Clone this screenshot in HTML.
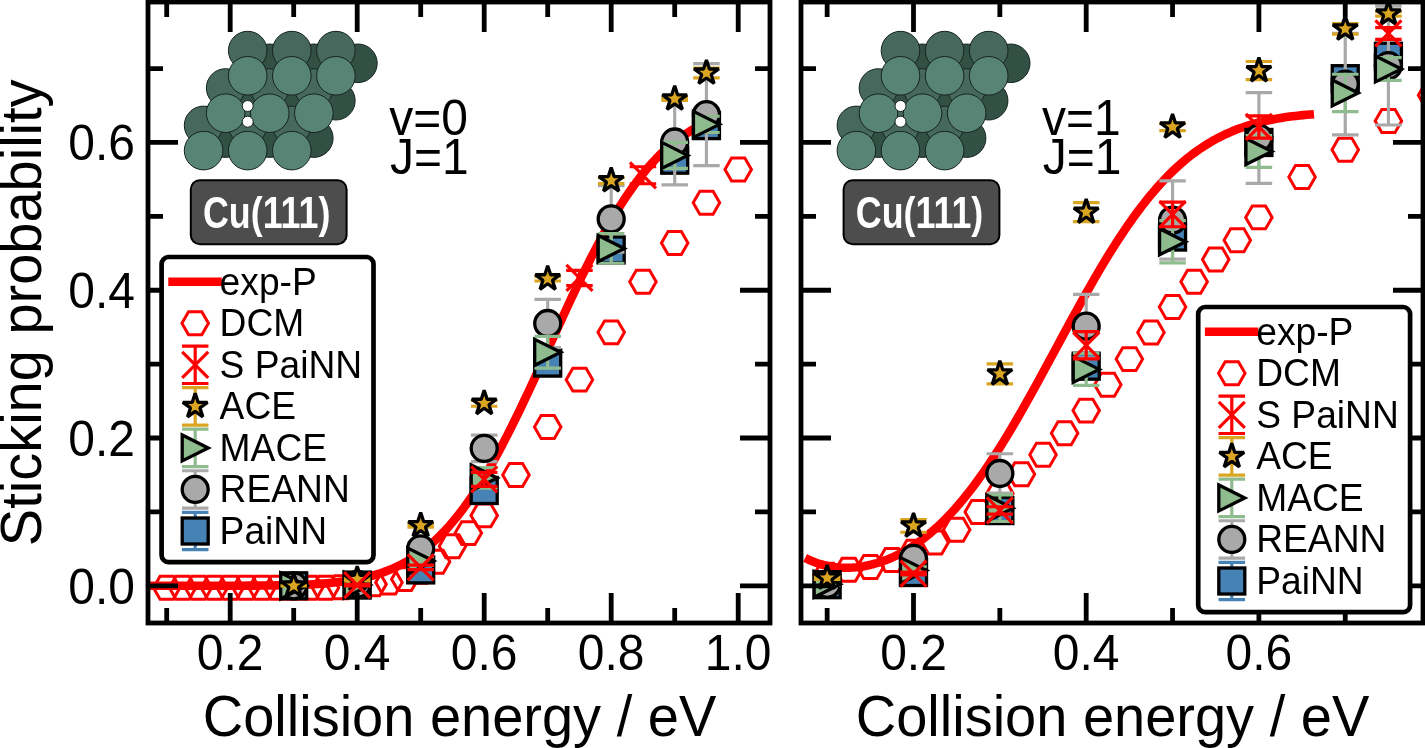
<!DOCTYPE html>
<html lang="en"><head><meta charset="utf-8"><title>Sticking probability vs collision energy</title>
<style>
html,body{margin:0;padding:0;background:#fff;overflow:hidden}
svg{display:block}
text{font-family:"Liberation Sans",sans-serif}
</style></head><body>
<svg width="1425" height="748" viewBox="0 0 1425 748" role="img" aria-label="Sticking probability versus collision energy for Cu(111)">
<rect width="1425" height="748" fill="#fff"/>
<text transform="translate(41.2,312.8) rotate(-90) scale(1,1.03)" font-size="56" text-anchor="middle">Sticking probability</text>
<clipPath id="clipL"><rect x="148" y="2" width="622" height="621"/></clipPath>
<g clip-path="url(#clipL)">
<path d="M134.95 585.8 L139.65 585.8 L144.34 585.8 L149.04 585.8 L153.73 585.8 L158.43 585.8 L163.12 585.8 L167.82 585.8 L172.52 585.8 L177.21 585.8 L181.91 585.79 L186.6 585.79 L191.3 585.79 L196 585.79 L200.69 585.79 L205.39 585.78 L210.08 585.78 L214.78 585.77 L219.47 585.76 L224.17 585.76 L228.87 585.74 L233.56 585.73 L238.26 585.72 L242.95 585.7 L247.65 585.67 L252.34 585.65 L257.04 585.61 L261.74 585.57 L266.43 585.52 L271.13 585.47 L275.82 585.4 L280.52 585.32 L285.22 585.22 L289.91 585.11 L294.61 584.98 L299.3 584.82 L304 584.65 L308.69 584.44 L313.39 584.19 L318.09 583.91 L322.78 583.59 L327.48 583.21 L332.17 582.78 L336.87 582.29 L341.57 581.74 L346.26 581.1 L350.96 580.38 L355.65 579.56 L360.35 578.64 L365.04 577.61 L369.74 576.45 L374.44 575.15 L379.13 573.71 L383.83 572.11 L388.52 570.33 L393.22 568.36 L397.91 566.2 L402.61 563.82 L407.31 561.22 L412 558.38 L416.7 555.29 L421.39 551.93 L426.09 548.29 L430.79 544.36 L435.48 540.14 L440.18 535.6 L444.87 530.75 L449.57 525.57 L454.26 520.06 L458.96 514.22 L463.66 508.04 L468.35 501.53 L473.05 494.67 L477.74 487.49 L482.44 479.98 L487.13 472.15 L491.83 464.01 L496.53 455.57 L501.22 446.85 L505.92 437.87 L510.61 428.64 L515.31 419.19 L520.01 409.53 L524.7 399.7 L529.4 389.71 L534.09 379.6 L538.79 369.39 L543.48 359.11 L548.18 348.79 L552.88 338.46 L557.57 328.16 L562.27 317.9 L566.96 307.73 L571.66 297.66 L576.36 287.73 L581.05 277.96 L585.75 268.38 L590.44 259.02 L595.14 249.88 L599.83 241 L604.53 232.39 L609.23 224.07 L613.92 216.05 L618.62 208.35 L623.31 200.96 L628.01 193.91 L632.7 187.19 L637.4 180.8 L642.1 174.76 L646.79 169.04 L651.49 163.67 L656.18 158.62 L660.88 153.89 L665.58 149.48 L670.27 145.37 L674.97 141.56 L679.66 138.04 L684.36 134.78 L689.05 131.79 L693.75 129.04" fill="none" stroke="#ff0000" stroke-width="8.6" stroke-linecap="butt" stroke-linejoin="round"/>
<path d="M179.95 587.8 L173.32 599.27 L160.07 599.27 L153.45 587.8 L160.07 576.32 L173.32 576.32Z" fill="none" stroke="#ff0000" stroke-width="3.0" stroke-linejoin="miter"/>
<path d="M195.82 587.8 L189.2 599.27 L175.95 599.27 L169.32 587.8 L175.95 576.32 L189.2 576.32Z" fill="none" stroke="#ff0000" stroke-width="3.0" stroke-linejoin="miter"/>
<path d="M211.7 587.8 L205.08 599.27 L191.83 599.27 L185.2 587.8 L191.83 576.32 L205.08 576.32Z" fill="none" stroke="#ff0000" stroke-width="3.0" stroke-linejoin="miter"/>
<path d="M227.58 587.8 L220.95 599.27 L207.7 599.27 L201.08 587.8 L207.7 576.32 L220.95 576.32Z" fill="none" stroke="#ff0000" stroke-width="3.0" stroke-linejoin="miter"/>
<path d="M243.45 587.8 L236.82 599.27 L223.57 599.27 L216.95 587.8 L223.57 576.32 L236.82 576.32Z" fill="none" stroke="#ff0000" stroke-width="3.0" stroke-linejoin="miter"/>
<path d="M259.32 587.8 L252.7 599.27 L239.45 599.27 L232.82 587.8 L239.45 576.32 L252.7 576.32Z" fill="none" stroke="#ff0000" stroke-width="3.0" stroke-linejoin="miter"/>
<path d="M275.2 587.8 L268.57 599.27 L255.32 599.27 L248.7 587.8 L255.32 576.32 L268.57 576.32Z" fill="none" stroke="#ff0000" stroke-width="3.0" stroke-linejoin="miter"/>
<path d="M291.07 587.8 L284.45 599.27 L271.2 599.27 L264.57 587.8 L271.2 576.32 L284.45 576.32Z" fill="none" stroke="#ff0000" stroke-width="3.0" stroke-linejoin="miter"/>
<path d="M306.95 587.8 L300.33 599.27 L287.08 599.27 L280.45 587.8 L287.08 576.32 L300.33 576.32Z" fill="none" stroke="#ff0000" stroke-width="3.0" stroke-linejoin="miter"/>
<path d="M322.82 587.8 L316.2 599.27 L302.95 599.27 L296.32 587.8 L302.95 576.32 L316.2 576.32Z" fill="none" stroke="#ff0000" stroke-width="3.0" stroke-linejoin="miter"/>
<path d="M338.7 587.8 L332.07 599.27 L318.82 599.27 L312.2 587.8 L318.82 576.32 L332.07 576.32Z" fill="none" stroke="#ff0000" stroke-width="3.0" stroke-linejoin="miter"/>
<path d="M354.57 587.28 L347.95 598.75 L334.7 598.75 L328.07 587.28 L334.7 575.8 L347.95 575.8Z" fill="none" stroke="#ff0000" stroke-width="3.0" stroke-linejoin="miter"/>
<path d="M370.45 585.8 L363.82 597.27 L350.57 597.27 L343.95 585.8 L350.57 574.33 L363.82 574.33Z" fill="none" stroke="#ff0000" stroke-width="3.0" stroke-linejoin="miter"/>
<path d="M386.32 584.32 L379.7 595.8 L366.45 595.8 L359.82 584.32 L366.45 572.85 L379.7 572.85Z" fill="none" stroke="#ff0000" stroke-width="3.0" stroke-linejoin="miter"/>
<path d="M402.2 582.47 L395.58 593.95 L382.33 593.95 L375.7 582.47 L382.33 571 L395.58 571Z" fill="none" stroke="#ff0000" stroke-width="3.0" stroke-linejoin="miter"/>
<path d="M418.07 579.15 L411.45 590.62 L398.2 590.62 L391.57 579.15 L398.2 567.68 L411.45 567.68Z" fill="none" stroke="#ff0000" stroke-width="3.0" stroke-linejoin="miter"/>
<path d="M433.95 571.76 L427.32 583.24 L414.07 583.24 L407.45 571.76 L414.07 560.29 L427.32 560.29Z" fill="none" stroke="#ff0000" stroke-width="3.0" stroke-linejoin="miter"/>
<path d="M449.82 561.79 L443.2 573.26 L429.95 573.26 L423.32 561.79 L429.95 550.31 L443.2 550.31Z" fill="none" stroke="#ff0000" stroke-width="3.0" stroke-linejoin="miter"/>
<path d="M465.7 546.27 L459.07 557.74 L445.82 557.74 L439.2 546.27 L445.82 534.79 L459.07 534.79Z" fill="none" stroke="#ff0000" stroke-width="3.0" stroke-linejoin="miter"/>
<path d="M481.58 533.12 L474.95 544.59 L461.7 544.59 L455.08 533.12 L461.7 521.64 L474.95 521.64Z" fill="none" stroke="#ff0000" stroke-width="3.0" stroke-linejoin="miter"/>
<path d="M497.45 515.38 L490.82 526.86 L477.57 526.86 L470.95 515.38 L477.57 503.91 L490.82 503.91Z" fill="none" stroke="#ff0000" stroke-width="3.0" stroke-linejoin="miter"/>
<path d="M529.2 474.96 L522.58 486.44 L509.33 486.44 L502.7 474.96 L509.33 463.49 L522.58 463.49Z" fill="none" stroke="#ff0000" stroke-width="3.0" stroke-linejoin="miter"/>
<path d="M560.95 426.94 L554.33 438.41 L541.08 438.41 L534.45 426.94 L541.08 415.46 L554.33 415.46Z" fill="none" stroke="#ff0000" stroke-width="3.0" stroke-linejoin="miter"/>
<path d="M592.7 379.65 L586.08 391.12 L572.83 391.12 L566.2 379.65 L572.83 368.17 L586.08 368.17Z" fill="none" stroke="#ff0000" stroke-width="3.0" stroke-linejoin="miter"/>
<path d="M624.45 332.36 L617.83 343.83 L604.58 343.83 L597.95 332.36 L604.58 320.88 L617.83 320.88Z" fill="none" stroke="#ff0000" stroke-width="3.0" stroke-linejoin="miter"/>
<path d="M656.2 281.82 L649.58 293.29 L636.33 293.29 L629.7 281.82 L636.33 270.34 L649.58 270.34Z" fill="none" stroke="#ff0000" stroke-width="3.0" stroke-linejoin="miter"/>
<path d="M687.95 242.95 L681.33 254.43 L668.08 254.43 L661.45 242.95 L668.08 231.48 L681.33 231.48Z" fill="none" stroke="#ff0000" stroke-width="3.0" stroke-linejoin="miter"/>
<path d="M719.7 202.68 L713.08 214.16 L699.83 214.16 L693.2 202.68 L699.83 191.21 L713.08 191.21Z" fill="none" stroke="#ff0000" stroke-width="3.0" stroke-linejoin="miter"/>
<path d="M751.45 169.43 L744.83 180.9 L731.58 180.9 L724.95 169.43 L731.58 157.96 L744.83 157.96Z" fill="none" stroke="#ff0000" stroke-width="3.0" stroke-linejoin="miter"/>
<path d="M293.7 585.8 V585.8 M280.45 585.8 H306.95 M280.45 585.8 H306.95" fill="none" stroke="#4682b4" stroke-width="3.2"/>
<path d="M357.2 584.32 V585.8 M343.95 584.32 H370.45 M343.95 585.8 H370.45" fill="none" stroke="#4682b4" stroke-width="3.2"/>
<path d="M420.7 566.96 V572.87 M407.45 566.96 H433.95 M407.45 572.87 H433.95" fill="none" stroke="#4682b4" stroke-width="3.2"/>
<path d="M484.2 484.57 V496.39 M470.95 484.57 H497.45 M470.95 496.39 H497.45" fill="none" stroke="#4682b4" stroke-width="3.2"/>
<path d="M547.7 354.23 V371.96 M534.45 354.23 H560.95 M534.45 371.96 H560.95" fill="none" stroke="#4682b4" stroke-width="3.2"/>
<path d="M611.2 241.1 V258.84 M597.95 241.1 H624.45 M597.95 258.84 H624.45" fill="none" stroke="#4682b4" stroke-width="3.2"/>
<path d="M674.7 151.33 V169.06 M661.45 151.33 H687.95 M661.45 169.06 H687.95" fill="none" stroke="#4682b4" stroke-width="3.2"/>
<path d="M706.45 116.75 V134.48 M693.2 116.75 H719.7 M693.2 134.48 H719.7" fill="none" stroke="#4682b4" stroke-width="3.2"/>
<rect x="280.7" y="572.8" width="26" height="26" fill="#4682b4" stroke="#000" stroke-width="3.3"/>
<rect x="344.2" y="572.06" width="26" height="26" fill="#4682b4" stroke="#000" stroke-width="3.3"/>
<rect x="407.7" y="556.91" width="26" height="26" fill="#4682b4" stroke="#000" stroke-width="3.3"/>
<rect x="471.2" y="477.48" width="26" height="26" fill="#4682b4" stroke="#000" stroke-width="3.3"/>
<rect x="534.7" y="350.1" width="26" height="26" fill="#4682b4" stroke="#000" stroke-width="3.3"/>
<rect x="598.2" y="236.97" width="26" height="26" fill="#4682b4" stroke="#000" stroke-width="3.3"/>
<rect x="661.7" y="147.19" width="26" height="26" fill="#4682b4" stroke="#000" stroke-width="3.3"/>
<rect x="693.45" y="112.61" width="26" height="26" fill="#4682b4" stroke="#000" stroke-width="3.3"/>
<path d="M293.7 585.8 V585.8 M280.45 585.8 H306.95 M280.45 585.8 H306.95" fill="none" stroke="#a9a9a9" stroke-width="3.2"/>
<path d="M357.2 582.84 V585.8 M343.95 582.84 H370.45 M343.95 585.8 H370.45" fill="none" stroke="#a9a9a9" stroke-width="3.2"/>
<path d="M420.7 542.94 V554.77 M407.45 542.94 H433.95 M407.45 554.77 H433.95" fill="none" stroke="#a9a9a9" stroke-width="3.2"/>
<path d="M484.2 435.06 V461.66 M470.95 435.06 H497.45 M470.95 461.66 H497.45" fill="none" stroke="#a9a9a9" stroke-width="3.2"/>
<path d="M547.7 299.4 V347.58 M534.45 299.4 H560.95 M534.45 347.58 H560.95" fill="none" stroke="#a9a9a9" stroke-width="3.2"/>
<path d="M611.2 185.69 V252.19 M597.95 185.69 H624.45 M597.95 252.19 H624.45" fill="none" stroke="#a9a9a9" stroke-width="3.2"/>
<path d="M674.7 99.16 V184.87 M661.45 99.16 H687.95 M661.45 184.87 H687.95" fill="none" stroke="#a9a9a9" stroke-width="3.2"/>
<path d="M706.45 63.69 V165.66 M693.2 63.69 H719.7 M693.2 165.66 H719.7" fill="none" stroke="#a9a9a9" stroke-width="3.2"/>
<circle cx="293.7" cy="585.8" r="13" fill="#a9a9a9" stroke="#000" stroke-width="3.3"/>
<circle cx="357.2" cy="584.32" r="13" fill="#a9a9a9" stroke="#000" stroke-width="3.3"/>
<circle cx="420.7" cy="548.85" r="13" fill="#a9a9a9" stroke="#000" stroke-width="3.3"/>
<circle cx="484.2" cy="448.36" r="13" fill="#a9a9a9" stroke="#000" stroke-width="3.3"/>
<circle cx="547.7" cy="323.49" r="13" fill="#a9a9a9" stroke="#000" stroke-width="3.3"/>
<circle cx="611.2" cy="218.94" r="13" fill="#a9a9a9" stroke="#000" stroke-width="3.3"/>
<circle cx="674.7" cy="142.02" r="13" fill="#a9a9a9" stroke="#000" stroke-width="3.3"/>
<circle cx="706.45" cy="114.68" r="13" fill="#a9a9a9" stroke="#000" stroke-width="3.3"/>
<path d="M293.7 585.8 V585.8 M280.45 585.8 H306.95 M280.45 585.8 H306.95" fill="none" stroke="#8fbc8f" stroke-width="3.2"/>
<path d="M357.2 584.32 V585.8 M343.95 584.32 H370.45 M343.95 585.8 H370.45" fill="none" stroke="#8fbc8f" stroke-width="3.2"/>
<path d="M420.7 556.61 V565.48 M407.45 556.61 H433.95 M407.45 565.48 H433.95" fill="none" stroke="#8fbc8f" stroke-width="3.2"/>
<path d="M484.2 467.58 V488.27 M470.95 467.58 H497.45 M470.95 488.27 H497.45" fill="none" stroke="#8fbc8f" stroke-width="3.2"/>
<path d="M547.7 336.42 V368.19 M534.45 336.42 H560.95 M534.45 368.19 H560.95" fill="none" stroke="#8fbc8f" stroke-width="3.2"/>
<path d="M611.2 233.71 V263.27 M597.95 233.71 H624.45 M597.95 263.27 H624.45" fill="none" stroke="#8fbc8f" stroke-width="3.2"/>
<path d="M674.7 142.46 V168.32 M661.45 142.46 H687.95 M661.45 168.32 H687.95" fill="none" stroke="#8fbc8f" stroke-width="3.2"/>
<path d="M706.45 116.23 V132.48 M693.2 116.23 H719.7 M693.2 132.48 H719.7" fill="none" stroke="#8fbc8f" stroke-width="3.2"/>
<path d="M306.7 585.8 L280.7 572.8 L280.7 598.8Z" fill="#8fbc8f" stroke="#000" stroke-width="3.3" stroke-linejoin="miter" stroke-miterlimit="10"/>
<path d="M370.2 585.06 L344.2 572.06 L344.2 598.06Z" fill="#8fbc8f" stroke="#000" stroke-width="3.3" stroke-linejoin="miter" stroke-miterlimit="10"/>
<path d="M433.7 561.05 L407.7 548.05 L407.7 574.05Z" fill="#8fbc8f" stroke="#000" stroke-width="3.3" stroke-linejoin="miter" stroke-miterlimit="10"/>
<path d="M497.2 477.92 L471.2 464.92 L471.2 490.92Z" fill="#8fbc8f" stroke="#000" stroke-width="3.3" stroke-linejoin="miter" stroke-miterlimit="10"/>
<path d="M560.7 352.31 L534.7 339.31 L534.7 365.31Z" fill="#8fbc8f" stroke="#000" stroke-width="3.3" stroke-linejoin="miter" stroke-miterlimit="10"/>
<path d="M624.2 248.49 L598.2 235.49 L598.2 261.49Z" fill="#8fbc8f" stroke="#000" stroke-width="3.3" stroke-linejoin="miter" stroke-miterlimit="10"/>
<path d="M687.7 155.39 L661.7 142.39 L661.7 168.39Z" fill="#8fbc8f" stroke="#000" stroke-width="3.3" stroke-linejoin="miter" stroke-miterlimit="10"/>
<path d="M719.45 124.36 L693.45 111.36 L693.45 137.36Z" fill="#8fbc8f" stroke="#000" stroke-width="3.3" stroke-linejoin="miter" stroke-miterlimit="10"/>
<path d="M293.7 585.8 V585.8 M280.45 585.8 H306.95 M280.45 585.8 H306.95" fill="none" stroke="#daa520" stroke-width="3.2"/>
<path d="M357.2 577.89 V580.85 M343.95 577.89 H370.45 M343.95 580.85 H370.45" fill="none" stroke="#daa520" stroke-width="3.2"/>
<path d="M420.7 524.1 V527.06 M407.45 524.1 H433.95 M407.45 527.06 H433.95" fill="none" stroke="#daa520" stroke-width="3.2"/>
<path d="M484.2 400.34 V406.25 M470.95 400.34 H497.45 M470.95 406.25 H497.45" fill="none" stroke="#daa520" stroke-width="3.2"/>
<path d="M547.7 276.57 V281 M534.45 276.57 H560.95 M534.45 281 H560.95" fill="none" stroke="#daa520" stroke-width="3.2"/>
<path d="M611.2 177.63 V183.54 M597.95 177.63 H624.45 M597.95 183.54 H624.45" fill="none" stroke="#daa520" stroke-width="3.2"/>
<path d="M674.7 97.39 V100.34 M661.45 97.39 H687.95 M661.45 100.34 H687.95" fill="none" stroke="#daa520" stroke-width="3.2"/>
<path d="M706.45 68.13 V77.88 M693.2 68.13 H719.7 M693.2 77.88 H719.7" fill="none" stroke="#daa520" stroke-width="3.2"/>
<path d="M293.7 572.8 L296.62 581.78 L306.06 581.78 L298.42 587.33 L301.34 596.32 L293.7 590.77 L286.06 596.32 L288.98 587.33 L281.34 581.78 L290.78 581.78Z" fill="#daa520" stroke="#000" stroke-width="3.3" stroke-linejoin="bevel"/>
<path d="M357.2 566.37 L360.12 575.35 L369.56 575.35 L361.92 580.91 L364.84 589.89 L357.2 584.34 L349.56 589.89 L352.48 580.91 L344.84 575.35 L354.28 575.35Z" fill="#daa520" stroke="#000" stroke-width="3.3" stroke-linejoin="bevel"/>
<path d="M420.7 512.58 L423.62 521.56 L433.06 521.56 L425.42 527.11 L428.34 536.1 L420.7 530.55 L413.06 536.1 L415.98 527.11 L408.34 521.56 L417.78 521.56Z" fill="#daa520" stroke="#000" stroke-width="3.3" stroke-linejoin="bevel"/>
<path d="M484.2 390.29 L487.12 399.27 L496.56 399.27 L488.92 404.83 L491.84 413.81 L484.2 408.26 L476.56 413.81 L479.48 404.83 L471.84 399.27 L481.28 399.27Z" fill="#daa520" stroke="#000" stroke-width="3.3" stroke-linejoin="bevel"/>
<path d="M547.7 265.79 L550.62 274.77 L560.06 274.77 L552.42 280.32 L555.34 289.3 L547.7 283.75 L540.06 289.3 L542.98 280.32 L535.34 274.77 L544.78 274.77Z" fill="#daa520" stroke="#000" stroke-width="3.3" stroke-linejoin="bevel"/>
<path d="M611.2 167.59 L614.12 176.57 L623.56 176.57 L615.92 182.12 L618.84 191.1 L611.2 185.55 L603.56 191.1 L606.48 182.12 L598.84 176.57 L608.28 176.57Z" fill="#daa520" stroke="#000" stroke-width="3.3" stroke-linejoin="bevel"/>
<path d="M674.7 85.86 L677.62 94.85 L687.06 94.85 L679.42 100.4 L682.34 109.38 L674.7 103.83 L667.06 109.38 L669.98 100.4 L662.34 94.85 L671.78 94.85Z" fill="#daa520" stroke="#000" stroke-width="3.3" stroke-linejoin="bevel"/>
<path d="M706.45 60 L709.37 68.99 L718.81 68.99 L711.17 74.54 L714.09 83.52 L706.45 77.97 L698.81 83.52 L701.73 74.54 L694.09 68.99 L703.53 68.99Z" fill="#daa520" stroke="#000" stroke-width="3.3" stroke-linejoin="bevel"/>
<path d="M357.2 584.32 V585.8 M343.95 584.32 H370.45 M343.95 585.8 H370.45" fill="none" stroke="#ff0000" stroke-width="3.2"/>
<path d="M420.7 565.11 V569.54 M407.45 565.11 H433.95 M407.45 569.54 H433.95" fill="none" stroke="#ff0000" stroke-width="3.2"/>
<path d="M484.2 472.45 V486.34 M470.95 472.45 H497.45 M470.95 486.34 H497.45" fill="none" stroke="#ff0000" stroke-width="3.2"/>
<path d="M579.45 270.36 V285.58 M566.2 270.36 H592.7 M566.2 285.58 H592.7" fill="none" stroke="#ff0000" stroke-width="3.2"/>
<path d="M642.95 166.77 V183.76 M629.7 166.77 H656.2 M629.7 183.76 H656.2" fill="none" stroke="#ff0000" stroke-width="3.2"/>
<path d="M344.2 572.06 L370.2 598.06 M344.2 598.06 L370.2 572.06" fill="none" stroke="#ff0000" stroke-width="3.2"/>
<path d="M407.7 554.33 L433.7 580.33 M407.7 580.33 L433.7 554.33" fill="none" stroke="#ff0000" stroke-width="3.2"/>
<path d="M471.2 466.4 L497.2 492.4 M471.2 492.4 L497.2 466.4" fill="none" stroke="#ff0000" stroke-width="3.2"/>
<path d="M566.45 264.97 L592.45 290.97 M566.45 290.97 L592.45 264.97" fill="none" stroke="#ff0000" stroke-width="3.2"/>
<path d="M629.95 162.27 L655.95 188.27 M629.95 188.27 L655.95 162.27" fill="none" stroke="#ff0000" stroke-width="3.2"/>
</g>
<path d="M230.2 623 v-30 M230.2 2 v30 M357.2 623 v-30 M357.2 2 v30 M484.2 623 v-30 M484.2 2 v30 M611.2 623 v-30 M611.2 2 v30 M738.2 623 v-30 M738.2 2 v30 M166.7 623 v-15 M166.7 2 v15 M293.7 623 v-15 M293.7 2 v15 M420.7 623 v-15 M420.7 2 v15 M547.7 623 v-15 M547.7 2 v15 M674.7 623 v-15 M674.7 2 v15 M148 585.8 h30 M770 585.8 h-30 M148 438.02 h30 M770 438.02 h-30 M148 290.24 h30 M770 290.24 h-30 M148 142.46 h30 M770 142.46 h-30 M148 511.91 h15 M770 511.91 h-15 M148 364.13 h15 M770 364.13 h-15 M148 216.35 h15 M770 216.35 h-15 M148 68.57 h15 M770 68.57 h-15" fill="none" stroke="#000" stroke-width="4.8"/>
<rect x="148" y="2" width="622" height="621" fill="none" stroke="#000" stroke-width="4.8"/>
<text transform="translate(230.2,670.2) scale(1,1.055)" font-size="48" text-anchor="middle">0.2</text>
<text transform="translate(357.2,670.2) scale(1,1.055)" font-size="48" text-anchor="middle">0.4</text>
<text transform="translate(484.2,670.2) scale(1,1.055)" font-size="48" text-anchor="middle">0.6</text>
<text transform="translate(611.2,670.2) scale(1,1.055)" font-size="48" text-anchor="middle">0.8</text>
<text transform="translate(738.2,670.2) scale(1,1.055)" font-size="48" text-anchor="middle">1.0</text>
<text transform="translate(135,603.7) scale(1,1.055)" font-size="48" text-anchor="end">0.0</text>
<text transform="translate(135,455.92) scale(1,1.055)" font-size="48" text-anchor="end">0.2</text>
<text transform="translate(135,308.14) scale(1,1.055)" font-size="48" text-anchor="end">0.4</text>
<text transform="translate(135,160.36) scale(1,1.055)" font-size="48" text-anchor="end">0.6</text>
<text transform="translate(459.5,736.3) scale(1,1.02)" font-size="56" text-anchor="middle">Collision energy / eV</text>
<circle cx="269.7" cy="63.3" r="19.3" fill="#325044" stroke="#15231d" stroke-width="1"/>
<circle cx="313.8" cy="63.3" r="19.3" fill="#325044" stroke="#15231d" stroke-width="1"/>
<circle cx="357.9" cy="63.3" r="19.3" fill="#325044" stroke="#15231d" stroke-width="1"/>
<circle cx="247.65" cy="100.7" r="19.3" fill="#325044" stroke="#15231d" stroke-width="1"/>
<circle cx="291.75" cy="100.7" r="19.3" fill="#325044" stroke="#15231d" stroke-width="1"/>
<circle cx="335.85" cy="100.7" r="19.3" fill="#325044" stroke="#15231d" stroke-width="1"/>
<circle cx="225.6" cy="138.1" r="19.3" fill="#325044" stroke="#15231d" stroke-width="1"/>
<circle cx="269.7" cy="138.1" r="19.3" fill="#325044" stroke="#15231d" stroke-width="1"/>
<circle cx="313.8" cy="138.1" r="19.3" fill="#325044" stroke="#15231d" stroke-width="1"/>
<circle cx="247.7" cy="50.6" r="19.3" fill="#47695d" stroke="#15231d" stroke-width="1"/>
<circle cx="291.8" cy="50.6" r="19.3" fill="#47695d" stroke="#15231d" stroke-width="1"/>
<circle cx="335.9" cy="50.6" r="19.3" fill="#47695d" stroke="#15231d" stroke-width="1"/>
<circle cx="225.65" cy="88" r="19.3" fill="#47695d" stroke="#15231d" stroke-width="1"/>
<circle cx="269.75" cy="88" r="19.3" fill="#47695d" stroke="#15231d" stroke-width="1"/>
<circle cx="313.85" cy="88" r="19.3" fill="#47695d" stroke="#15231d" stroke-width="1"/>
<circle cx="203.6" cy="125.4" r="19.3" fill="#47695d" stroke="#15231d" stroke-width="1"/>
<circle cx="247.7" cy="125.4" r="19.3" fill="#47695d" stroke="#15231d" stroke-width="1"/>
<circle cx="291.8" cy="125.4" r="19.3" fill="#47695d" stroke="#15231d" stroke-width="1"/>
<circle cx="247.7" cy="75.8" r="19.3" fill="#588476" stroke="#15231d" stroke-width="1"/>
<circle cx="291.8" cy="75.8" r="19.3" fill="#588476" stroke="#15231d" stroke-width="1"/>
<circle cx="335.9" cy="75.8" r="19.3" fill="#588476" stroke="#15231d" stroke-width="1"/>
<circle cx="225.65" cy="113.2" r="19.3" fill="#588476" stroke="#15231d" stroke-width="1"/>
<circle cx="269.75" cy="113.2" r="19.3" fill="#588476" stroke="#15231d" stroke-width="1"/>
<circle cx="313.85" cy="113.2" r="19.3" fill="#588476" stroke="#15231d" stroke-width="1"/>
<circle cx="203.6" cy="150.6" r="19.3" fill="#588476" stroke="#15231d" stroke-width="1"/>
<circle cx="247.7" cy="150.6" r="19.3" fill="#588476" stroke="#15231d" stroke-width="1"/>
<circle cx="291.8" cy="150.6" r="19.3" fill="#588476" stroke="#15231d" stroke-width="1"/>
<circle cx="247.7" cy="106" r="5.5" fill="#fff" stroke="#15231d" stroke-width="1"/>
<circle cx="247.7" cy="121.7" r="5.5" fill="#fff" stroke="#15231d" stroke-width="1"/>
<rect x="190.8" y="180.2" width="155.8" height="64" rx="9" ry="9" fill="#4d4d4d" stroke="#000" stroke-width="2"/>
<text x="266.7" y="227.5" font-size="44" font-weight="bold" fill="#fff" text-anchor="middle" textLength="127.5" lengthAdjust="spacingAndGlyphs">Cu(111)</text>
<text transform="translate(389.3,135.3) scale(1,1.055)" font-size="48" text-anchor="start">v=0</text>
<text transform="translate(390,173.6) scale(1,1.055)" font-size="48" text-anchor="start">J=1</text>
<rect x="161.6" y="257" width="211.9" height="305.2" rx="7" ry="7" fill="#fff" stroke="#000" stroke-width="4.7"/>
<path d="M168.3 281.7 H221.8" stroke="#ff0000" stroke-width="8.6" fill="none"/>
<text transform="translate(219.6,294.6) scale(1,1.035)" font-size="37.2" text-anchor="start">exp-P</text>
<path d="M208.45 323.25 L201.82 334.72 L188.57 334.72 L181.95 323.25 L188.57 311.78 L201.82 311.78Z" fill="none" stroke="#ff0000" stroke-width="3.0" stroke-linejoin="miter"/>
<text transform="translate(219.6,336.15) scale(1,1.035)" font-size="37.2" text-anchor="start">DCM</text>
<path d="M195.2 346.1 V383.5 M181.95 346.1 H208.45 M181.95 383.5 H208.45" fill="none" stroke="#ff0000" stroke-width="3.2"/>
<path d="M182.2 351.8 L208.2 377.8 M182.2 377.8 L208.2 351.8" fill="none" stroke="#ff0000" stroke-width="3.2"/>
<text transform="translate(219.6,377.7) scale(1,1.035)" font-size="37.2" text-anchor="start">S PaiNN</text>
<path d="M195.2 387.65 V425.05 M181.95 387.65 H208.45 M181.95 425.05 H208.45" fill="none" stroke="#daa520" stroke-width="3.2"/>
<path d="M195.2 393.35 L198.12 402.33 L207.56 402.33 L199.92 407.88 L202.84 416.87 L195.2 411.32 L187.56 416.87 L190.48 407.88 L182.84 402.33 L192.28 402.33Z" fill="#daa520" stroke="#000" stroke-width="3.3" stroke-linejoin="bevel"/>
<text transform="translate(219.6,419.25) scale(1,1.035)" font-size="37.2" text-anchor="start">ACE</text>
<path d="M195.2 429.2 V466.6 M181.95 429.2 H208.45 M181.95 466.6 H208.45" fill="none" stroke="#8fbc8f" stroke-width="3.2"/>
<path d="M208.2 447.9 L182.2 434.9 L182.2 460.9Z" fill="#8fbc8f" stroke="#000" stroke-width="3.3" stroke-linejoin="miter" stroke-miterlimit="10"/>
<text transform="translate(219.6,460.8) scale(1,1.035)" font-size="37.2" text-anchor="start">MACE</text>
<path d="M195.2 470.75 V508.15 M181.95 470.75 H208.45 M181.95 508.15 H208.45" fill="none" stroke="#a9a9a9" stroke-width="3.2"/>
<circle cx="195.2" cy="489.45" r="13" fill="#a9a9a9" stroke="#000" stroke-width="3.3"/>
<text transform="translate(219.6,502.35) scale(1,1.035)" font-size="37.2" text-anchor="start">REANN</text>
<path d="M195.2 512.3 V549.7 M181.95 512.3 H208.45 M181.95 549.7 H208.45" fill="none" stroke="#4682b4" stroke-width="3.2"/>
<rect x="182.2" y="518" width="26" height="26" fill="#4682b4" stroke="#000" stroke-width="3.3"/>
<text transform="translate(219.6,543.9) scale(1,1.035)" font-size="37.2" text-anchor="start">PaiNN</text>
<clipPath id="clipR"><rect x="801" y="2" width="622" height="621"/></clipPath>
<g clip-path="url(#clipR)">
<path d="M805.13 557.89 L808.79 559.74 L812.45 561.36 L816.11 562.77 L819.77 563.99 L823.44 565.01 L827.1 565.87 L830.76 566.55 L834.42 567.08 L838.08 567.45 L841.74 567.68 L845.4 567.77 L849.06 567.72 L852.72 567.53 L856.38 567.22 L860.04 566.78 L863.7 566.21 L867.37 565.51 L871.03 564.69 L874.69 563.75 L878.35 562.67 L882.01 561.48 L885.67 560.15 L889.33 558.7 L892.99 557.11 L896.65 555.4 L900.31 553.55 L903.97 551.56 L907.64 549.44 L911.3 547.18 L914.96 544.78 L918.62 542.23 L922.28 539.54 L925.94 536.71 L929.6 533.73 L933.26 530.59 L936.92 527.31 L940.58 523.88 L944.24 520.29 L947.9 516.55 L951.57 512.65 L955.23 508.61 L958.89 504.41 L962.55 500.06 L966.21 495.55 L969.87 490.9 L973.53 486.1 L977.19 481.16 L980.85 476.07 L984.51 470.85 L988.17 465.48 L991.83 459.99 L995.5 454.37 L999.16 448.62 L1002.82 442.76 L1006.48 436.78 L1010.14 430.7 L1013.8 424.52 L1017.46 418.24 L1021.12 411.88 L1024.78 405.44 L1028.44 398.92 L1032.1 392.34 L1035.77 385.71 L1039.43 379.03 L1043.09 372.3 L1046.75 365.55 L1050.41 358.78 L1054.07 351.99 L1057.73 345.2 L1061.39 338.41 L1065.05 331.63 L1068.71 324.88 L1072.37 318.15 L1076.03 311.47 L1079.7 304.83 L1083.36 298.24 L1087.02 291.72 L1090.68 285.27 L1094.34 278.9 L1098 272.62 L1101.66 266.43 L1105.32 260.33 L1108.98 254.34 L1112.64 248.47 L1116.3 242.71 L1119.97 237.07 L1123.63 231.55 L1127.29 226.17 L1130.95 220.92 L1134.61 215.8 L1138.27 210.83 L1141.93 206 L1145.59 201.31 L1149.25 196.77 L1152.91 192.38 L1156.57 188.13 L1160.23 184.04 L1163.9 180.09 L1167.56 176.28 L1171.22 172.63 L1174.88 169.12 L1178.54 165.75 L1182.2 162.53 L1185.86 159.44 L1189.52 156.5 L1193.18 153.69 L1196.84 151.01 L1200.5 148.47 L1204.17 146.04 L1207.83 143.75 L1211.49 141.57 L1215.15 139.51 L1218.81 137.56 L1222.47 135.72 L1226.13 133.98 L1229.79 132.35 L1233.45 130.81 L1237.11 129.37 L1240.77 128.02 L1244.43 126.75 L1248.1 125.56 L1251.76 124.45 L1255.42 123.41 L1259.08 122.45 L1262.74 121.55 L1266.4 120.71 L1270.06 119.94 L1273.72 119.22 L1277.38 118.55 L1281.04 117.94 L1284.7 117.37 L1288.37 116.84 L1292.03 116.36 L1295.69 115.92 L1299.35 115.51 L1303.01 115.13 L1306.67 114.79 L1310.33 114.47 L1313.99 114.18" fill="none" stroke="#ff0000" stroke-width="8.6" stroke-linecap="butt" stroke-linejoin="round"/>
<path d="M840.4 574.72 L833.77 586.19 L820.52 586.19 L813.9 574.72 L820.52 563.24 L833.77 563.24Z" fill="none" stroke="#ff0000" stroke-width="3.0" stroke-linejoin="miter"/>
<path d="M861.99 569.77 L855.36 581.24 L842.11 581.24 L835.49 569.77 L842.11 558.29 L855.36 558.29Z" fill="none" stroke="#ff0000" stroke-width="3.0" stroke-linejoin="miter"/>
<path d="M883.57 567.03 L876.95 578.51 L863.7 578.51 L857.07 567.03 L863.7 555.56 L876.95 555.56Z" fill="none" stroke="#ff0000" stroke-width="3.0" stroke-linejoin="miter"/>
<path d="M905.16 560.09 L898.54 571.56 L885.29 571.56 L878.66 560.09 L885.29 548.61 L898.54 548.61Z" fill="none" stroke="#ff0000" stroke-width="3.0" stroke-linejoin="miter"/>
<path d="M926.75 551.81 L920.12 563.29 L906.88 563.29 L900.25 551.81 L906.88 540.34 L920.12 540.34Z" fill="none" stroke="#ff0000" stroke-width="3.0" stroke-linejoin="miter"/>
<path d="M948.34 542.5 L941.71 553.98 L928.46 553.98 L921.84 542.5 L928.46 531.03 L941.71 531.03Z" fill="none" stroke="#ff0000" stroke-width="3.0" stroke-linejoin="miter"/>
<path d="M969.92 529.72 L963.3 541.19 L950.05 541.19 L943.42 529.72 L950.05 518.24 L963.3 518.24Z" fill="none" stroke="#ff0000" stroke-width="3.0" stroke-linejoin="miter"/>
<path d="M991.51 511.98 L984.89 523.46 L971.64 523.46 L965.01 511.98 L971.64 500.51 L984.89 500.51Z" fill="none" stroke="#ff0000" stroke-width="3.0" stroke-linejoin="miter"/>
<path d="M1013.1 493.44 L1006.47 504.91 L993.22 504.91 L986.6 493.44 L993.22 481.96 L1006.47 481.96Z" fill="none" stroke="#ff0000" stroke-width="3.0" stroke-linejoin="miter"/>
<path d="M1034.69 474.23 L1028.06 485.7 L1014.81 485.7 L1008.19 474.23 L1014.81 462.75 L1028.06 462.75Z" fill="none" stroke="#ff0000" stroke-width="3.0" stroke-linejoin="miter"/>
<path d="M1056.27 454.72 L1049.65 466.19 L1036.4 466.19 L1029.77 454.72 L1036.4 443.24 L1049.65 443.24Z" fill="none" stroke="#ff0000" stroke-width="3.0" stroke-linejoin="miter"/>
<path d="M1077.86 433.22 L1071.24 444.69 L1057.99 444.69 L1051.36 433.22 L1057.99 421.74 L1071.24 421.74Z" fill="none" stroke="#ff0000" stroke-width="3.0" stroke-linejoin="miter"/>
<path d="M1099.45 410.61 L1092.83 422.08 L1079.58 422.08 L1072.95 410.61 L1079.58 399.13 L1092.83 399.13Z" fill="none" stroke="#ff0000" stroke-width="3.0" stroke-linejoin="miter"/>
<path d="M1121.04 384.67 L1114.41 396.15 L1101.16 396.15 L1094.54 384.67 L1101.16 373.2 L1114.41 373.2Z" fill="none" stroke="#ff0000" stroke-width="3.0" stroke-linejoin="miter"/>
<path d="M1142.62 359.11 L1136 370.58 L1122.75 370.58 L1116.12 359.11 L1122.75 347.63 L1136 347.63Z" fill="none" stroke="#ff0000" stroke-width="3.0" stroke-linejoin="miter"/>
<path d="M1164.21 332.58 L1157.59 344.05 L1144.34 344.05 L1137.71 332.58 L1144.34 321.1 L1157.59 321.1Z" fill="none" stroke="#ff0000" stroke-width="3.0" stroke-linejoin="miter"/>
<path d="M1185.8 307.01 L1179.17 318.49 L1165.92 318.49 L1159.3 307.01 L1165.92 295.54 L1179.17 295.54Z" fill="none" stroke="#ff0000" stroke-width="3.0" stroke-linejoin="miter"/>
<path d="M1207.39 281.82 L1200.76 293.29 L1187.51 293.29 L1180.89 281.82 L1187.51 270.34 L1200.76 270.34Z" fill="none" stroke="#ff0000" stroke-width="3.0" stroke-linejoin="miter"/>
<path d="M1228.97 259.43 L1222.35 270.9 L1209.1 270.9 L1202.47 259.43 L1209.1 247.95 L1222.35 247.95Z" fill="none" stroke="#ff0000" stroke-width="3.0" stroke-linejoin="miter"/>
<path d="M1250.56 240.29 L1243.94 251.77 L1230.69 251.77 L1224.06 240.29 L1230.69 228.82 L1243.94 228.82Z" fill="none" stroke="#ff0000" stroke-width="3.0" stroke-linejoin="miter"/>
<path d="M1272.15 217.38 L1265.53 228.86 L1252.28 228.86 L1245.65 217.38 L1252.28 205.91 L1265.53 205.91Z" fill="none" stroke="#ff0000" stroke-width="3.0" stroke-linejoin="miter"/>
<path d="M1315.32 177.04 L1308.7 188.52 L1295.45 188.52 L1288.82 177.04 L1295.45 165.57 L1308.7 165.57Z" fill="none" stroke="#ff0000" stroke-width="3.0" stroke-linejoin="miter"/>
<path d="M1358.5 149.85 L1351.88 161.32 L1338.62 161.32 L1332 149.85 L1338.62 138.37 L1351.88 138.37Z" fill="none" stroke="#ff0000" stroke-width="3.0" stroke-linejoin="miter"/>
<path d="M1401.67 121.03 L1395.05 132.51 L1381.8 132.51 L1375.17 121.03 L1381.8 109.56 L1395.05 109.56Z" fill="none" stroke="#ff0000" stroke-width="3.0" stroke-linejoin="miter"/>
<path d="M1444.85 95.17 L1438.22 106.65 L1424.97 106.65 L1418.35 95.17 L1424.97 83.7 L1438.22 83.7Z" fill="none" stroke="#ff0000" stroke-width="3.0" stroke-linejoin="miter"/>
<path d="M827.15 583.95 V585.43 M813.9 583.95 H840.4 M813.9 585.43 H840.4" fill="none" stroke="#4682b4" stroke-width="3.2"/>
<path d="M913.5 570.28 V574.72 M900.25 570.28 H926.75 M900.25 574.72 H926.75" fill="none" stroke="#4682b4" stroke-width="3.2"/>
<path d="M999.85 504.67 V516.49 M986.6 504.67 H1013.1 M986.6 516.49 H1013.1" fill="none" stroke="#4682b4" stroke-width="3.2"/>
<path d="M1086.2 357.33 V375.07 M1072.95 357.33 H1099.45 M1072.95 375.07 H1099.45" fill="none" stroke="#4682b4" stroke-width="3.2"/>
<path d="M1172.55 228.17 V245.91 M1159.3 228.17 H1185.8 M1159.3 245.91 H1185.8" fill="none" stroke="#4682b4" stroke-width="3.2"/>
<path d="M1258.9 133.59 V151.33 M1245.65 133.59 H1272.15 M1245.65 151.33 H1272.15" fill="none" stroke="#4682b4" stroke-width="3.2"/>
<path d="M1345.25 69.83 V87.56 M1332 69.83 H1358.5 M1332 87.56 H1358.5" fill="none" stroke="#4682b4" stroke-width="3.2"/>
<path d="M1388.42 47.36 V65.1 M1375.17 47.36 H1401.67 M1375.17 65.1 H1401.67" fill="none" stroke="#4682b4" stroke-width="3.2"/>
<rect x="814.15" y="571.69" width="26" height="26" fill="#4682b4" stroke="#000" stroke-width="3.3"/>
<rect x="900.5" y="559.5" width="26" height="26" fill="#4682b4" stroke="#000" stroke-width="3.3"/>
<rect x="986.85" y="497.58" width="26" height="26" fill="#4682b4" stroke="#000" stroke-width="3.3"/>
<rect x="1073.2" y="353.2" width="26" height="26" fill="#4682b4" stroke="#000" stroke-width="3.3"/>
<rect x="1159.55" y="224.04" width="26" height="26" fill="#4682b4" stroke="#000" stroke-width="3.3"/>
<rect x="1245.9" y="129.46" width="26" height="26" fill="#4682b4" stroke="#000" stroke-width="3.3"/>
<rect x="1332.25" y="65.69" width="26" height="26" fill="#4682b4" stroke="#000" stroke-width="3.3"/>
<rect x="1375.42" y="43.23" width="26" height="26" fill="#4682b4" stroke="#000" stroke-width="3.3"/>
<path d="M827.15 582.84 V585.8 M813.9 582.84 H840.4 M813.9 585.8 H840.4" fill="none" stroke="#a9a9a9" stroke-width="3.2"/>
<path d="M913.5 552.55 V564.37 M900.25 552.55 H926.75 M900.25 564.37 H926.75" fill="none" stroke="#a9a9a9" stroke-width="3.2"/>
<path d="M999.85 453.76 V493.22 M986.6 453.76 H1013.1 M986.6 493.22 H1013.1" fill="none" stroke="#a9a9a9" stroke-width="3.2"/>
<path d="M1086.2 294.45 V358 M1072.95 294.45 H1099.45 M1072.95 358 H1099.45" fill="none" stroke="#a9a9a9" stroke-width="3.2"/>
<path d="M1172.55 180.88 V259.21 M1159.3 180.88 H1185.8 M1159.3 259.21 H1185.8" fill="none" stroke="#a9a9a9" stroke-width="3.2"/>
<path d="M1258.9 92.58 V183.47 M1245.65 92.58 H1272.15 M1245.65 183.47 H1272.15" fill="none" stroke="#a9a9a9" stroke-width="3.2"/>
<path d="M1345.25 33.32 V134.85 M1332 33.32 H1358.5 M1332 134.85 H1358.5" fill="none" stroke="#a9a9a9" stroke-width="3.2"/>
<path d="M1388.42 6.21 V125.02 M1375.17 6.21 H1401.67 M1375.17 125.02 H1401.67" fill="none" stroke="#a9a9a9" stroke-width="3.2"/>
<circle cx="827.15" cy="584.32" r="13" fill="#a9a9a9" stroke="#000" stroke-width="3.3"/>
<circle cx="913.5" cy="558.46" r="13" fill="#a9a9a9" stroke="#000" stroke-width="3.3"/>
<circle cx="999.85" cy="473.49" r="13" fill="#a9a9a9" stroke="#000" stroke-width="3.3"/>
<circle cx="1086.2" cy="326.22" r="13" fill="#a9a9a9" stroke="#000" stroke-width="3.3"/>
<circle cx="1172.55" cy="220.04" r="13" fill="#a9a9a9" stroke="#000" stroke-width="3.3"/>
<circle cx="1258.9" cy="138.03" r="13" fill="#a9a9a9" stroke="#000" stroke-width="3.3"/>
<circle cx="1345.25" cy="84.09" r="13" fill="#a9a9a9" stroke="#000" stroke-width="3.3"/>
<circle cx="1388.42" cy="65.61" r="13" fill="#a9a9a9" stroke="#000" stroke-width="3.3"/>
<path d="M827.15 583.58 V585.06 M813.9 583.58 H840.4 M813.9 585.06 H840.4" fill="none" stroke="#8fbc8f" stroke-width="3.2"/>
<path d="M913.5 566.88 V574.27 M900.25 566.88 H926.75 M900.25 574.27 H926.75" fill="none" stroke="#8fbc8f" stroke-width="3.2"/>
<path d="M999.85 494.92 V521.52 M986.6 494.92 H1013.1 M986.6 521.52 H1013.1" fill="none" stroke="#8fbc8f" stroke-width="3.2"/>
<path d="M1086.2 353.34 V385.41 M1072.95 353.34 H1099.45 M1072.95 385.41 H1099.45" fill="none" stroke="#8fbc8f" stroke-width="3.2"/>
<path d="M1172.55 220.56 V262.97 M1159.3 220.56 H1185.8 M1159.3 262.97 H1185.8" fill="none" stroke="#8fbc8f" stroke-width="3.2"/>
<path d="M1258.9 135.59 V167.36 M1245.65 135.59 H1272.15 M1245.65 167.36 H1272.15" fill="none" stroke="#8fbc8f" stroke-width="3.2"/>
<path d="M1345.25 74.26 V111.65 M1332 74.26 H1358.5 M1332 111.65 H1358.5" fill="none" stroke="#8fbc8f" stroke-width="3.2"/>
<path d="M1388.42 57.56 V80.32 M1375.17 57.56 H1401.67 M1375.17 80.32 H1401.67" fill="none" stroke="#8fbc8f" stroke-width="3.2"/>
<path d="M840.15 584.32 L814.15 571.32 L814.15 597.32Z" fill="#8fbc8f" stroke="#000" stroke-width="3.3" stroke-linejoin="miter" stroke-miterlimit="10"/>
<path d="M926.5 570.58 L900.5 557.58 L900.5 583.58Z" fill="#8fbc8f" stroke="#000" stroke-width="3.3" stroke-linejoin="miter" stroke-miterlimit="10"/>
<path d="M1012.85 508.22 L986.85 495.22 L986.85 521.22Z" fill="#8fbc8f" stroke="#000" stroke-width="3.3" stroke-linejoin="miter" stroke-miterlimit="10"/>
<path d="M1099.2 369.38 L1073.2 356.38 L1073.2 382.38Z" fill="#8fbc8f" stroke="#000" stroke-width="3.3" stroke-linejoin="miter" stroke-miterlimit="10"/>
<path d="M1185.55 241.77 L1159.55 228.77 L1159.55 254.77Z" fill="#8fbc8f" stroke="#000" stroke-width="3.3" stroke-linejoin="miter" stroke-miterlimit="10"/>
<path d="M1271.9 151.47 L1245.9 138.47 L1245.9 164.47Z" fill="#8fbc8f" stroke="#000" stroke-width="3.3" stroke-linejoin="miter" stroke-miterlimit="10"/>
<path d="M1358.25 92.95 L1332.25 79.95 L1332.25 105.95Z" fill="#8fbc8f" stroke="#000" stroke-width="3.3" stroke-linejoin="miter" stroke-miterlimit="10"/>
<path d="M1401.42 68.94 L1375.42 55.94 L1375.42 81.94Z" fill="#8fbc8f" stroke="#000" stroke-width="3.3" stroke-linejoin="miter" stroke-miterlimit="10"/>
<path d="M827.15 576.49 V579.45 M813.9 576.49 H840.4 M813.9 579.45 H840.4" fill="none" stroke="#daa520" stroke-width="3.2"/>
<path d="M913.5 519.67 V532.23 M900.25 519.67 H926.75 M900.25 532.23 H926.75" fill="none" stroke="#daa520" stroke-width="3.2"/>
<path d="M999.85 363.83 V383.78 M986.6 363.83 H1013.1 M986.6 383.78 H1013.1" fill="none" stroke="#daa520" stroke-width="3.2"/>
<path d="M1086.2 202.53 V221.6 M1072.95 202.53 H1099.45 M1072.95 221.6 H1099.45" fill="none" stroke="#daa520" stroke-width="3.2"/>
<path d="M1172.55 123.25 V130.64 M1159.3 123.25 H1185.8 M1159.3 130.64 H1185.8" fill="none" stroke="#daa520" stroke-width="3.2"/>
<path d="M1258.9 61.48 V79.65 M1245.65 61.48 H1272.15 M1245.65 79.65 H1272.15" fill="none" stroke="#daa520" stroke-width="3.2"/>
<path d="M1345.25 23.57 V34.21 M1332 23.57 H1358.5 M1332 34.21 H1358.5" fill="none" stroke="#daa520" stroke-width="3.2"/>
<path d="M1388.42 11.67 V16.11 M1375.17 11.67 H1401.67 M1375.17 16.11 H1401.67" fill="none" stroke="#daa520" stroke-width="3.2"/>
<path d="M827.15 564.97 L830.07 573.95 L839.51 573.95 L831.87 579.5 L834.79 588.48 L827.15 582.93 L819.51 588.48 L822.43 579.5 L814.79 573.95 L824.23 573.95Z" fill="#daa520" stroke="#000" stroke-width="3.3" stroke-linejoin="bevel"/>
<path d="M913.5 512.95 L916.42 521.93 L925.86 521.93 L918.22 527.48 L921.14 536.47 L913.5 530.91 L905.86 536.47 L908.78 527.48 L901.14 521.93 L910.58 521.93Z" fill="#daa520" stroke="#000" stroke-width="3.3" stroke-linejoin="bevel"/>
<path d="M999.85 360.81 L1002.77 369.79 L1012.21 369.79 L1004.57 375.34 L1007.49 384.33 L999.85 378.78 L992.21 384.33 L995.13 375.34 L987.49 369.79 L996.93 369.79Z" fill="#daa520" stroke="#000" stroke-width="3.3" stroke-linejoin="bevel"/>
<path d="M1086.2 199.06 L1089.12 208.05 L1098.56 208.05 L1090.92 213.6 L1093.84 222.58 L1086.2 217.03 L1078.56 222.58 L1081.48 213.6 L1073.84 208.05 L1083.28 208.05Z" fill="#daa520" stroke="#000" stroke-width="3.3" stroke-linejoin="bevel"/>
<path d="M1172.55 113.94 L1175.47 122.93 L1184.91 122.93 L1177.27 128.48 L1180.19 137.46 L1172.55 131.91 L1164.91 137.46 L1167.83 128.48 L1160.19 122.93 L1169.63 122.93Z" fill="#daa520" stroke="#000" stroke-width="3.3" stroke-linejoin="bevel"/>
<path d="M1258.9 57.57 L1261.82 66.55 L1271.26 66.55 L1263.62 72.1 L1266.54 81.08 L1258.9 75.53 L1251.26 81.08 L1254.18 72.1 L1246.54 66.55 L1255.98 66.55Z" fill="#daa520" stroke="#000" stroke-width="3.3" stroke-linejoin="bevel"/>
<path d="M1345.25 15.89 L1348.17 24.87 L1357.61 24.87 L1349.97 30.43 L1352.89 39.41 L1345.25 33.86 L1337.61 39.41 L1340.53 30.43 L1332.89 24.87 L1342.33 24.87Z" fill="#daa520" stroke="#000" stroke-width="3.3" stroke-linejoin="bevel"/>
<path d="M1388.42 0.89 L1391.34 9.87 L1400.79 9.87 L1393.15 15.43 L1396.07 24.41 L1388.42 18.86 L1380.78 24.41 L1383.7 15.43 L1376.06 9.87 L1385.51 9.87Z" fill="#daa520" stroke="#000" stroke-width="3.3" stroke-linejoin="bevel"/>
<path d="M913.5 572.06 V575.01 M900.25 572.06 H926.75 M900.25 575.01 H926.75" fill="none" stroke="#ff0000" stroke-width="3.2"/>
<path d="M999.85 506.74 V514.13 M986.6 506.74 H1013.1 M986.6 514.13 H1013.1" fill="none" stroke="#ff0000" stroke-width="3.2"/>
<path d="M1086.2 331.62 V358.96 M1072.95 331.62 H1099.45 M1072.95 358.96 H1099.45" fill="none" stroke="#ff0000" stroke-width="3.2"/>
<path d="M1172.55 202.09 V226.77 M1159.3 202.09 H1185.8 M1159.3 226.77 H1185.8" fill="none" stroke="#ff0000" stroke-width="3.2"/>
<path d="M1258.9 115.86 V138.03 M1245.65 115.86 H1272.15 M1245.65 138.03 H1272.15" fill="none" stroke="#ff0000" stroke-width="3.2"/>
<path d="M1388.42 27.56 V39.38 M1375.17 27.56 H1401.67 M1375.17 39.38 H1401.67" fill="none" stroke="#ff0000" stroke-width="3.2"/>
<path d="M900.5 560.53 L926.5 586.53 M900.5 586.53 L926.5 560.53" fill="none" stroke="#ff0000" stroke-width="3.2"/>
<path d="M986.85 497.43 L1012.85 523.43 M986.85 523.43 L1012.85 497.43" fill="none" stroke="#ff0000" stroke-width="3.2"/>
<path d="M1073.2 332.29 L1099.2 358.29 M1073.2 358.29 L1099.2 332.29" fill="none" stroke="#ff0000" stroke-width="3.2"/>
<path d="M1159.55 201.43 L1185.55 227.43 M1159.55 227.43 L1185.55 201.43" fill="none" stroke="#ff0000" stroke-width="3.2"/>
<path d="M1245.9 113.94 L1271.9 139.94 M1245.9 139.94 L1271.9 113.94" fill="none" stroke="#ff0000" stroke-width="3.2"/>
<path d="M1375.42 20.47 L1401.42 46.47 M1375.42 46.47 L1401.42 20.47" fill="none" stroke="#ff0000" stroke-width="3.2"/>
</g>
<path d="M913.5 623 v-30 M913.5 2 v30 M1086.2 623 v-30 M1086.2 2 v30 M1258.9 623 v-30 M1258.9 2 v30 M827.15 623 v-15 M827.15 2 v15 M999.85 623 v-15 M999.85 2 v15 M1172.55 623 v-15 M1172.55 2 v15 M1345.25 623 v-15 M1345.25 2 v15 M801 585.8 h30 M1423 585.8 h-30 M801 438.02 h30 M1423 438.02 h-30 M801 290.24 h30 M1423 290.24 h-30 M801 142.46 h30 M1423 142.46 h-30 M801 511.91 h15 M1423 511.91 h-15 M801 364.13 h15 M1423 364.13 h-15 M801 216.35 h15 M1423 216.35 h-15 M801 68.57 h15 M1423 68.57 h-15" fill="none" stroke="#000" stroke-width="4.8"/>
<rect x="801" y="2" width="622" height="621" fill="none" stroke="#000" stroke-width="4.8"/>
<text transform="translate(913.5,670.2) scale(1,1.055)" font-size="48" text-anchor="middle">0.2</text>
<text transform="translate(1086.2,670.2) scale(1,1.055)" font-size="48" text-anchor="middle">0.4</text>
<text transform="translate(1258.9,670.2) scale(1,1.055)" font-size="48" text-anchor="middle">0.6</text>
<text transform="translate(1112.5,736.3) scale(1,1.02)" font-size="56" text-anchor="middle">Collision energy / eV</text>
<circle cx="922.5" cy="63.3" r="19.3" fill="#325044" stroke="#15231d" stroke-width="1"/>
<circle cx="966.6" cy="63.3" r="19.3" fill="#325044" stroke="#15231d" stroke-width="1"/>
<circle cx="1010.7" cy="63.3" r="19.3" fill="#325044" stroke="#15231d" stroke-width="1"/>
<circle cx="900.45" cy="100.7" r="19.3" fill="#325044" stroke="#15231d" stroke-width="1"/>
<circle cx="944.55" cy="100.7" r="19.3" fill="#325044" stroke="#15231d" stroke-width="1"/>
<circle cx="988.65" cy="100.7" r="19.3" fill="#325044" stroke="#15231d" stroke-width="1"/>
<circle cx="878.4" cy="138.1" r="19.3" fill="#325044" stroke="#15231d" stroke-width="1"/>
<circle cx="922.5" cy="138.1" r="19.3" fill="#325044" stroke="#15231d" stroke-width="1"/>
<circle cx="966.6" cy="138.1" r="19.3" fill="#325044" stroke="#15231d" stroke-width="1"/>
<circle cx="900.5" cy="50.6" r="19.3" fill="#47695d" stroke="#15231d" stroke-width="1"/>
<circle cx="944.6" cy="50.6" r="19.3" fill="#47695d" stroke="#15231d" stroke-width="1"/>
<circle cx="988.7" cy="50.6" r="19.3" fill="#47695d" stroke="#15231d" stroke-width="1"/>
<circle cx="878.45" cy="88" r="19.3" fill="#47695d" stroke="#15231d" stroke-width="1"/>
<circle cx="922.55" cy="88" r="19.3" fill="#47695d" stroke="#15231d" stroke-width="1"/>
<circle cx="966.65" cy="88" r="19.3" fill="#47695d" stroke="#15231d" stroke-width="1"/>
<circle cx="856.4" cy="125.4" r="19.3" fill="#47695d" stroke="#15231d" stroke-width="1"/>
<circle cx="900.5" cy="125.4" r="19.3" fill="#47695d" stroke="#15231d" stroke-width="1"/>
<circle cx="944.6" cy="125.4" r="19.3" fill="#47695d" stroke="#15231d" stroke-width="1"/>
<circle cx="900.5" cy="75.8" r="19.3" fill="#588476" stroke="#15231d" stroke-width="1"/>
<circle cx="944.6" cy="75.8" r="19.3" fill="#588476" stroke="#15231d" stroke-width="1"/>
<circle cx="988.7" cy="75.8" r="19.3" fill="#588476" stroke="#15231d" stroke-width="1"/>
<circle cx="878.45" cy="113.2" r="19.3" fill="#588476" stroke="#15231d" stroke-width="1"/>
<circle cx="922.55" cy="113.2" r="19.3" fill="#588476" stroke="#15231d" stroke-width="1"/>
<circle cx="966.65" cy="113.2" r="19.3" fill="#588476" stroke="#15231d" stroke-width="1"/>
<circle cx="856.4" cy="150.6" r="19.3" fill="#588476" stroke="#15231d" stroke-width="1"/>
<circle cx="900.5" cy="150.6" r="19.3" fill="#588476" stroke="#15231d" stroke-width="1"/>
<circle cx="944.6" cy="150.6" r="19.3" fill="#588476" stroke="#15231d" stroke-width="1"/>
<circle cx="900.5" cy="106" r="5.5" fill="#fff" stroke="#15231d" stroke-width="1"/>
<circle cx="900.5" cy="121.7" r="5.5" fill="#fff" stroke="#15231d" stroke-width="1"/>
<rect x="843.6" y="180.2" width="155.8" height="64" rx="9" ry="9" fill="#4d4d4d" stroke="#000" stroke-width="2"/>
<text x="919.5" y="227.5" font-size="44" font-weight="bold" fill="#fff" text-anchor="middle" textLength="127.5" lengthAdjust="spacingAndGlyphs">Cu(111)</text>
<text transform="translate(1042.1,135.3) scale(1,1.055)" font-size="48" text-anchor="start">v=1</text>
<text transform="translate(1042.8,173.6) scale(1,1.055)" font-size="48" text-anchor="start">J=1</text>
<rect x="1198.2" y="307" width="211.9" height="305.2" rx="7" ry="7" fill="#fff" stroke="#000" stroke-width="4.7"/>
<path d="M1204.9 331.7 H1258.4" stroke="#ff0000" stroke-width="8.6" fill="none"/>
<text transform="translate(1256.2,344.6) scale(1,1.035)" font-size="37.2" text-anchor="start">exp-P</text>
<path d="M1245.05 373.25 L1238.42 384.72 L1225.17 384.72 L1218.55 373.25 L1225.17 361.78 L1238.42 361.78Z" fill="none" stroke="#ff0000" stroke-width="3.0" stroke-linejoin="miter"/>
<text transform="translate(1256.2,386.15) scale(1,1.035)" font-size="37.2" text-anchor="start">DCM</text>
<path d="M1231.8 396.1 V433.5 M1218.55 396.1 H1245.05 M1218.55 433.5 H1245.05" fill="none" stroke="#ff0000" stroke-width="3.2"/>
<path d="M1218.8 401.8 L1244.8 427.8 M1218.8 427.8 L1244.8 401.8" fill="none" stroke="#ff0000" stroke-width="3.2"/>
<text transform="translate(1256.2,427.7) scale(1,1.035)" font-size="37.2" text-anchor="start">S PaiNN</text>
<path d="M1231.8 437.65 V475.05 M1218.55 437.65 H1245.05 M1218.55 475.05 H1245.05" fill="none" stroke="#daa520" stroke-width="3.2"/>
<path d="M1231.8 443.35 L1234.72 452.33 L1244.16 452.33 L1236.52 457.88 L1239.44 466.87 L1231.8 461.32 L1224.16 466.87 L1227.08 457.88 L1219.44 452.33 L1228.88 452.33Z" fill="#daa520" stroke="#000" stroke-width="3.3" stroke-linejoin="bevel"/>
<text transform="translate(1256.2,469.25) scale(1,1.035)" font-size="37.2" text-anchor="start">ACE</text>
<path d="M1231.8 479.2 V516.6 M1218.55 479.2 H1245.05 M1218.55 516.6 H1245.05" fill="none" stroke="#8fbc8f" stroke-width="3.2"/>
<path d="M1244.8 497.9 L1218.8 484.9 L1218.8 510.9Z" fill="#8fbc8f" stroke="#000" stroke-width="3.3" stroke-linejoin="miter" stroke-miterlimit="10"/>
<text transform="translate(1256.2,510.8) scale(1,1.035)" font-size="37.2" text-anchor="start">MACE</text>
<path d="M1231.8 520.75 V558.15 M1218.55 520.75 H1245.05 M1218.55 558.15 H1245.05" fill="none" stroke="#a9a9a9" stroke-width="3.2"/>
<circle cx="1231.8" cy="539.45" r="13" fill="#a9a9a9" stroke="#000" stroke-width="3.3"/>
<text transform="translate(1256.2,552.35) scale(1,1.035)" font-size="37.2" text-anchor="start">REANN</text>
<path d="M1231.8 562.3 V599.7 M1218.55 562.3 H1245.05 M1218.55 599.7 H1245.05" fill="none" stroke="#4682b4" stroke-width="3.2"/>
<rect x="1218.8" y="568" width="26" height="26" fill="#4682b4" stroke="#000" stroke-width="3.3"/>
<text transform="translate(1256.2,593.9) scale(1,1.035)" font-size="37.2" text-anchor="start">PaiNN</text>
</svg>
</body></html>
